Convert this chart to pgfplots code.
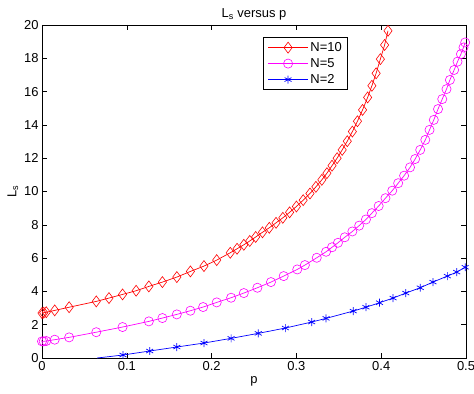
\documentclass[border=0pt]{standalone}
\usepackage{pgfplots}
\pgfplotsset{compat=1.18}
\usepackage{fontspec}
\setmainfont{Liberation Sans}
\definecolor{mred}{RGB}{255,0,0}
\definecolor{mmag}{RGB}{255,0,255}
\definecolor{mblue}{RGB}{0,0,255}
\begin{document}
\begin{tikzpicture}
\begin{axis}[
  name=ax,
  width=424bp, height=333bp, scale only axis,
  xmin=0, xmax=0.5, ymin=0, ymax=20,
  xtick={0,0.1,0.2,0.3,0.4,0.5},
  ytick={0,2,4,6,8,10,12,14,16,18,20},
  xticklabels={0,0.1,0.2,0.3,0.4,0.5},
  tick align=inside, tick pos=both,
  major tick length=5bp,
  axis line style={black, line width=1pt},
  tick style={black, line width=0.6pt},
  /pgf/number format/assume math mode=true,
  tick label style={font=\fontsize{13}{15}\selectfont},
  title={L\textsubscript{s} versus p},
  title style={font=\fontsize{13}{15}\selectfont, yshift=-5bp},
  xlabel={p}, ylabel={L\textsubscript{s}},
  label style={font=\fontsize{13}{15}\selectfont},
  xlabel style={yshift=1bp},
  ylabel style={yshift=-1bp},
  legend style={at={(0.722,0.964)}, anchor=north east, draw=black, line width=0.8pt,
    font=\fontsize{13}{15}\selectfont, row sep=1.5bp, inner xsep=4bp, inner ysep=3bp},
  legend cell align=left,
  legend image code/.code={\draw[mark repeat=2,mark phase=2,line width=0.7pt] plot coordinates {(0bp,0bp) (20bp,0bp) (40bp,0bp)};},
]
\addplot[mred, line width=0.7pt, mark=diamond, mark size=5.5pt, mark options={solid, fill=none, line width=0.6pt}] coordinates {
(0,2.70) (0.002,2.72) (0.005,2.75) (0.015,2.86) (0.032,3.05) (0.064,3.40) (0.079,3.60) (0.095,3.82) (0.111,4.04) (0.126,4.30) (0.142,4.56) (0.159,4.86) (0.175,5.20) (0.191,5.52) (0.206,5.88) (0.222,6.32) (0.230,6.56) (0.238,6.80) (0.245,7.03) (0.252,7.27) (0.260,7.55) (0.268,7.82) (0.276,8.12) (0.284,8.42) (0.292,8.75) (0.300,9.10) (0.308,9.48) (0.316,9.88) (0.323,10.28) (0.330,10.70) (0.336,11.10) (0.342,11.55) (0.348,12.00) (0.354,12.50) (0.360,13.02) (0.366,13.60) (0.372,14.22) (0.378,14.90) (0.384,15.65) (0.389,16.35) (0.394,17.10) (0.399,17.95) (0.404,18.80) (0.408,19.65)
};
\addlegendentry{N=10}
\addplot[mmag, line width=0.7pt, mark=o, mark size=4.6pt, mark options={solid, fill=none, line width=0.6pt}] coordinates {
(0,1.00) (0.002,1.00) (0.005,1.02) (0.015,1.10) (0.032,1.24) (0.064,1.55) (0.095,1.86) (0.126,2.20) (0.142,2.40) (0.159,2.62) (0.175,2.84) (0.190,3.06) (0.206,3.34) (0.223,3.62) (0.238,3.90) (0.254,4.22) (0.270,4.56) (0.285,4.92) (0.301,5.32) (0.310,5.58) (0.324,6.02) (0.335,6.38) (0.342,6.65) (0.349,6.92) (0.357,7.25) (0.366,7.60) (0.374,7.95) (0.382,8.32) (0.389,8.70) (0.397,9.13) (0.405,9.60) (0.413,10.05) (0.420,10.50) (0.427,10.95) (0.434,11.45) (0.440,11.95) (0.446,12.50) (0.452,13.10) (0.457,13.70) (0.462,14.30) (0.467,14.95) (0.472,15.55) (0.477,16.15) (0.481,16.70) (0.486,17.30) (0.490,17.80) (0.494,18.25) (0.497,18.65) (0.499,18.95)
};
\addlegendentry{N=5}
\addplot[mblue, line width=0.7pt, mark=asterisk, mark size=4pt, mark options={solid, line width=0.7pt}] coordinates {
(0.0955,0.18) (0.127,0.42) (0.159,0.66) (0.191,0.90) (0.223,1.18) (0.255,1.48) (0.287,1.80) (0.318,2.16) (0.335,2.38) (0.367,2.82) (0.382,3.05) (0.398,3.32) (0.414,3.60) (0.429,3.90) (0.446,4.22) (0.461,4.56) (0.478,4.92) (0.489,5.16) (0.499,5.45)
};
\addlegendentry{N=2}
\addplot[mblue, line width=0.7pt, forget plot] coordinates {(0.065,0) (0.0955,0.18)};
\end{axis}
\pgfresetboundingbox
\path ([shift={(-42bp,-35bp)}]ax.south west) rectangle ([shift={(8bp,25bp)}]ax.north east);
\end{tikzpicture}
\end{document}
